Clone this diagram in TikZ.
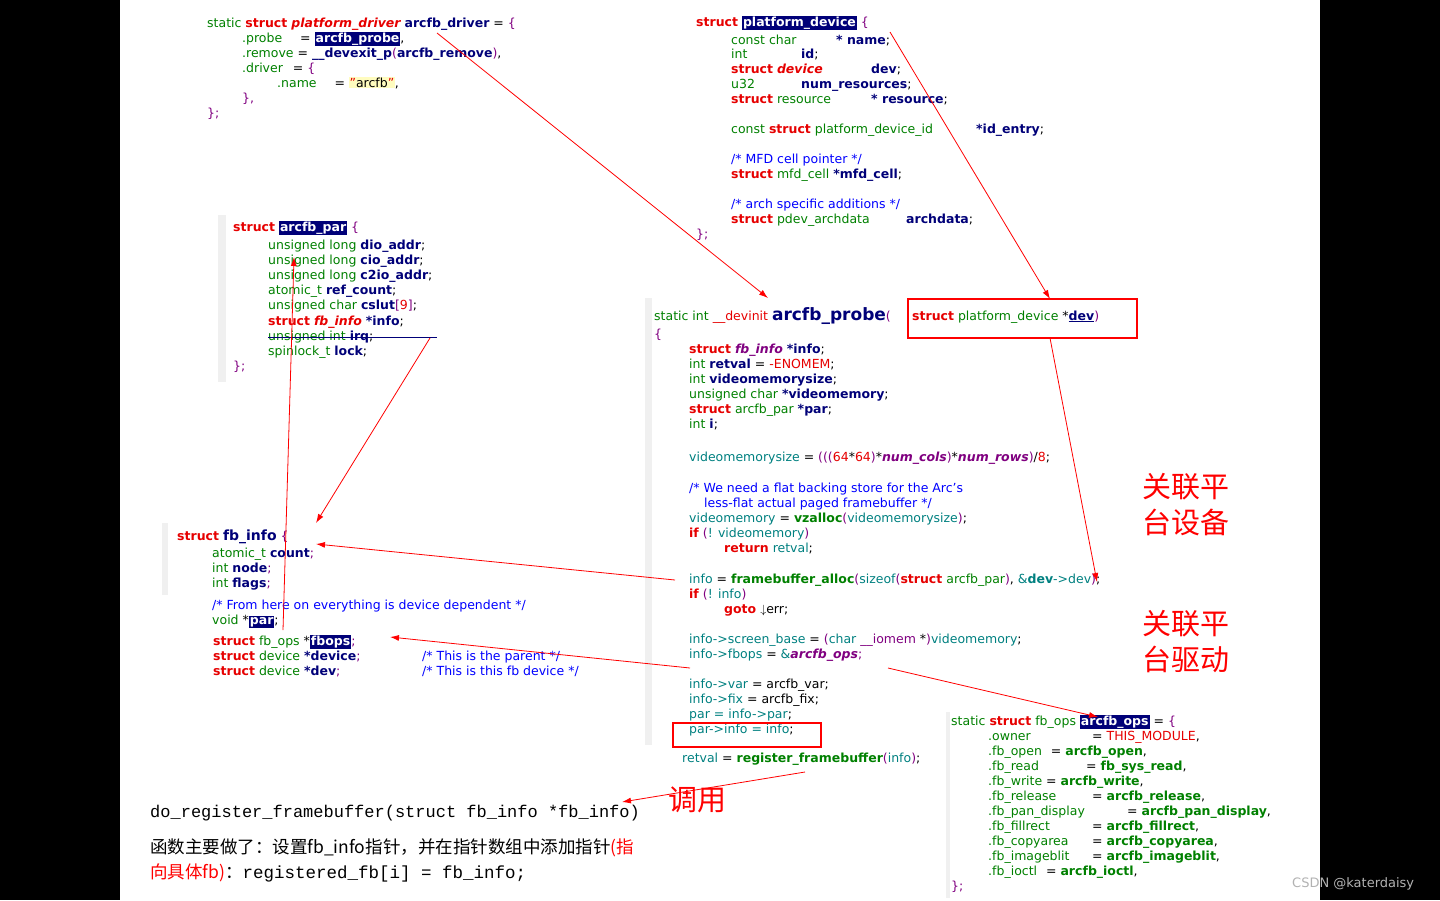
\documentclass[tikz,border=0pt]{standalone}
\usepackage{fontspec}
\setmainfont{DejaVu Sans}
\newfontfamily\cjkf{Noto Sans CJK SC}
\newfontfamily\monof{Liberation Mono}
\usetikzlibrary{arrows.meta}
\definecolor{kwc}{RGB}{230,0,0}
\definecolor{tyc}{RGB}{0,128,0}
\definecolor{idc}{RGB}{0,0,120}
\definecolor{puc}{RGB}{128,0,128}
\definecolor{cmc}{RGB}{0,0,255}
\definecolor{tlc}{RGB}{0,128,128}
\newcommand{\kw}[1]{\textcolor{kwc}{\bfseries #1}}
\newcommand{\ty}[1]{\textcolor{tyc}{#1}}
\newcommand{\idf}[1]{\textcolor{idc}{\bfseries #1}}
\newcommand{\pu}[1]{\textcolor{puc}{#1}}
\newcommand{\cmt}[1]{\textcolor{cmc}{#1}}
\newcommand{\tl}[1]{\textcolor{tlc}{#1}}
\newcommand{\pit}[1]{\textcolor{puc}{\bfseries\itshape #1}}
\newcommand{\rit}[1]{\textcolor{kwc}{\bfseries\itshape #1}}
\newcommand{\hlb}[1]{{\setlength{\fboxsep}{1pt}\colorbox{idc}{\textcolor{white}{\bfseries #1}}}}
\begin{document}
\begin{tikzpicture}[x=1pt,y=-1pt,
  code/.style={anchor=base west,inner sep=0pt,font=\fontsize{12.5}{15}\selectfont},
  cn/.style={anchor=base west,inner sep=0pt,font=\cjkf\fontsize{29}{36}\selectfont,text=red,align=left},
  arr/.style={red,line width=0.8pt,-{Latex[length=9pt,width=6pt]}},
  rbox/.style={draw=red,line width=2pt}]
\useasboundingbox (0,0) rectangle (1440,900);
\fill[black] (0,0) rectangle (120,900);
\fill[black] (1320,0) rectangle (1440,900);
\fill[gray!12] (218,215) rectangle (226,382);
\fill[gray!12] (162,523) rectangle (168,595);
\fill[gray!12] (645,298) rectangle (652,745);
\fill[gray!12] (946,712) rectangle (950,898);
% platform_driver
\node[code] (d1) at (207,27) {\ty{static} \kw{struct} \rit{platform\_driver} \idf{arcfb\_driver} = \pu{\{}};
\node[code] (d2) at (242,42) {\ty{.probe}\hspace{18pt}= \hlb{arcfb\_probe},};
\node[code] (d3) at (242,57) {\ty{.remove} = \idf{\_\_devexit\_p}\pu{(}\idf{arcfb\_remove}\pu{)},};
\node[code] (d4) at (242,72) {\ty{.driver}\hspace{10pt}= \pu{\{}};
\node[code] (d5) at (277,87) {\ty{.name}\hspace{18pt}= {\setlength{\fboxsep}{0.5pt}\colorbox{yellow!25}{\kw{\mdseries"}arcfb\kw{\mdseries"}}},};
\node[code] (d6) at (242,102) {\pu{\},}};
\node[code] (d7) at (207,117) {\pu{\};}};
% platform_device
\node[code] (p0) at (696,26) {\kw{struct} \hlb{platform\_device} \pu{\{}};
\node[code] at (731,44) {\ty{const char}};\node[code] at (836,44) {\idf{* name};};
\node[code] at (731,58) {\ty{int}};\node[code] at (801,58) {\idf{id};};
\node[code] at (731,73) {\kw{struct} \rit{device}};\node[code] at (871,73) {\idf{dev};};
\node[code] at (731,88) {\ty{u32}};\node[code] at (801,88) {\idf{num\_resources};};
\node[code] at (731,103) {\kw{struct} \ty{resource}};\node[code] at (871,103) {\idf{* resource};};
\node[code] at (731,133) {\ty{const} \kw{struct} \ty{platform\_device\_id}};\node[code] at (976,133) {\idf{*id\_entry};};
\node[code] at (731,163) {\cmt{/* MFD cell pointer */}};
\node[code] at (731,178) {\kw{struct} \ty{mfd\_cell} \idf{*mfd\_cell};};
\node[code] at (731,208) {\cmt{/* arch specific additions */}};
\node[code] at (731,223) {\kw{struct} \ty{pdev\_archdata}};\node[code] at (906,223) {\idf{archdata};};
\node[code] at (696,238) {\pu{\};}};
% arcfb_par
\node[code] (a0) at (233,231) {\kw{struct} \hlb{arcfb\_par} \pu{\{}};
\node[code] at (268,249) {\ty{unsigned long} \idf{dio\_addr};};
\node[code] at (268,264) {\ty{unsigned long} \idf{cio\_addr};};
\node[code] at (268,279) {\ty{unsigned long} \idf{c2io\_addr};};
\node[code] at (268,294) {\ty{atomic\_t} \idf{ref\_count};};
\node[code] at (268,309) {\ty{unsigned char} \idf{cslut}\pu{[}\textcolor{kwc}{9}\pu{]};};
\node[code] (ainfo) at (268,325) {\kw{struct} \rit{fb\_info} \idf{*info};};
\node[code] at (268,340) {\ty{unsigned int} \idf{irq};};
\node[code] at (268,355) {\ty{spinlock\_t} \idf{lock};};
\node[code] at (233,370) {\pu{\};}};
\coordinate (aul) at (437,337);
\draw[idc,line width=0.6pt] (268,337) -- (aul);
% fb_info
\node[code] (f0) at (177,540) {\kw{struct} {\fontsize{14}{15}\selectfont\idf{fb\_info}} \pu{\{}};
\node[code] at (212,557) {\ty{atomic\_t} \idf{count}\pu{;}};
\node[code] at (212,572) {\ty{int} \idf{node}\pu{;}};
\node[code] at (212,587) {\ty{int} \idf{flags}\pu{;}};
\node[code] at (212,609) {\cmt{/* From here on everything is device dependent */}};
\node[code] (fpar) at (212,624) {\ty{void} *\hlb{par};};
\node[code] (fops) at (213,645) {\kw{struct} \ty{fb\_ops} *\hlb{fbops}\pu{;}};
\node[code] at (213,660) {\kw{struct} \ty{device} \idf{*device}\pu{;}};\node[code] at (422,660) {\cmt{/* This is the parent */}};
\node[code] at (213,675) {\kw{struct} \ty{device} \idf{*dev}\pu{;}};\node[code] at (422,675) {\cmt{/* This is this fb device */}};
% probe
\node[code] (pr) at (654,320) {\ty{static int} \textcolor{kwc}{\_\_devinit} {\fontsize{17}{15}\selectfont\idf{arcfb\_probe}}\pu{(}};
\node[code] (prd) at (912,320) {\kw{struct} \ty{platform\_device} *\idf{\underline{dev}}\pu{)}};
\draw[rbox] (908,299) rectangle (1137,338);
\coordinate (boxtop) at (1050,299);
\coordinate (boxbot) at (1050,338);
\node[code] at (654,338) {\pu{\{}};
\node[code] at (689,353) {\kw{struct} \pit{fb\_info} \idf{*info};};
\node[code] at (689,368) {\ty{int} \idf{retval} = \textcolor{kwc}{-ENOMEM};};
\node[code] at (689,383) {\ty{int} \idf{videomemorysize};};
\node[code] at (689,398) {\ty{unsigned char} \idf{*videomemory};};
\node[code] at (689,413) {\kw{struct} \ty{arcfb\_par} \idf{*par};};
\node[code] at (689,428) {\ty{int} \idf{i};};
\node[code] at (689,461) {\tl{videomemorysize} = \pu{(((}\textcolor{kwc}{64}*\textcolor{kwc}{64}\pu{)}*\pit{num\_cols}\pu{)}*\pit{num\_rows}\pu{)}/\textcolor{kwc}{8};};
\node[code] at (689,492) {\cmt{/* We need a flat backing store for the Arc's}};
\node[code] at (704,507) {\cmt{less-flat actual paged framebuffer */}};
\node[code] at (689,522) {\tl{videomemory} = \textcolor{tyc}{\bfseries vzalloc}\pu{(}\tl{videomemorysize}\pu{)};};
\node[code] at (689,537) {\kw{if} \pu{(}\tl{! videomemory}\pu{)}};
\node[code] at (724,552) {\kw{return} \tl{retval};};
\node[code] (pinfo) at (689,583) {\tl{info} = \textcolor{tyc}{\bfseries framebuffer\_alloc}\pu{(}\tl{sizeof}\pu{(}\kw{struct} \ty{arcfb\_par}\pu{)}, \tl{\&}\textcolor{tlc}{\bfseries dev}\tl{->dev}\pu{)};};
\coordinate (pdev) at (1097,582);
\node[code] at (689,598) {\kw{if} \pu{(}\tl{! info}\pu{)}};
\node[code] at (724,613) {\kw{goto} $\downarrow$err;};
\node[code] at (689,643) {\tl{info->screen\_base} = \pu{(}\tl{char} \textcolor{puc}{\_\_iomem} *\pu{)}\tl{videomemory};};
\node[code] (pops) at (689,658) {\tl{info->fbops} = \tl{\&}\pit{arcfb\_ops}\pu{;}};
\node[code] at (689,688) {\tl{info->var} = arcfb\_var;};
\node[code] at (689,703) {\tl{info->fix} = arcfb\_fix;};
\node[code] at (689,718) {\tl{par = info->par};};
\node[code] at (689,733) {\tl{par->info = info};};
\draw[rbox] (673,723) rectangle (821,747);
\node[code] (reg) at (682,762) {\tl{retval} = \textcolor{tyc}{\bfseries register\_framebuffer}\pu{(}\tl{info}\pu{)};};
% fb_ops
\node[code] (o0) at (951,725) {\ty{static} \kw{struct} \ty{fb\_ops} \hlb{arcfb\_ops} = \pu{\{}};
\node[code] at (988,740) {\ty{.owner}};\node[code] at (1092,740) {= \textcolor{kwc}{THIS\_MODULE},};
\node[code] at (988,755) {\ty{.fb\_open}\hspace{5pt} = \textcolor{tyc}{\bfseries arcfb\_open},};
\node[code] at (988,770) {\ty{.fb\_read}};\node[code] at (1086,770) {= \textcolor{tyc}{\bfseries fb\_sys\_read},};
\node[code] at (988,785) {\ty{.fb\_write} = \textcolor{tyc}{\bfseries arcfb\_write},};
\node[code] at (988,800) {\ty{.fb\_release}};\node[code] at (1092,800) {= \textcolor{tyc}{\bfseries arcfb\_release},};
\node[code] at (988,815) {\ty{.fb\_pan\_display}};\node[code] at (1127,815) {= \textcolor{tyc}{\bfseries arcfb\_pan\_display},};
\node[code] at (988,830) {\ty{.fb\_fillrect}};\node[code] at (1092,830) {= \textcolor{tyc}{\bfseries arcfb\_fillrect},};
\node[code] at (988,845) {\ty{.fb\_copyarea}};\node[code] at (1092,845) {= \textcolor{tyc}{\bfseries arcfb\_copyarea},};
\node[code] at (988,860) {\ty{.fb\_imageblit}};\node[code] at (1092,860) {= \textcolor{tyc}{\bfseries arcfb\_imageblit},};
\node[code] at (988,875) {\ty{.fb\_ioctl}\hspace{5pt} = \textcolor{tyc}{\bfseries arcfb\_ioctl},};
\node[code] at (951,890) {\pu{\};}};
% chinese labels
\node[cn] (c1) at (1142,533) {关联平\\台设备};
\node[cn] (c2) at (1142,670) {关联平\\台驱动};
\node[cn] (c3) at (668,810) {调用};
% bottom text
\node[anchor=base west,inner sep=0pt,font=\monof\fontsize{17}{20}\selectfont] (dr) at (150,817) {do\_register\_framebuffer(struct fb\_info *fb\_info)};
\node[anchor=base west,inner sep=0pt,font=\cjkf\fontsize{17.5}{20}\selectfont] (t1) at (150,853) {函数主要做了：设置fb\_info指针，并在指针数组中添加指针\textcolor{red}{(指}};
\node[anchor=base west,inner sep=0pt,font=\cjkf\fontsize{17.5}{20}\selectfont] (t2) at (150,878) {\textcolor{red}{向具体fb)}：{\monof registered\_fb[i] = fb\_info;}};
\node[anchor=base west,inner sep=0pt,font=\fontsize{13}{15}\selectfont,text=gray!60] (wm) at (1292,887) {CSDN @katerdaisy};
% arrows
\coordinate (s1) at (437,33);
\coordinate (e1) at (768,298);
\draw[arr] (s1) -- (e1);
\coordinate (s2) at (890,32);
\draw[arr] (s2) -- (boxtop);
\draw[arr] (boxbot) -- (pdev);
\coordinate (s4) at (675,580);
\coordinate (e4) at (316,544);
\draw[arr] (s4) -- (e4);
\coordinate (e5) at (316,523);
\draw[arr] (430,338) -- (e5);
\coordinate (s6) at (283,630);
\coordinate (e6) at (294,257);
\draw[arr] (s6) -- (e6);
\coordinate (s7) at (690,668);
\coordinate (e7) at (390,637);
\draw[arr] (s7) -- (e7);
\coordinate (s8) at (888,668);
\coordinate (e8) at (1098,717);
\draw[arr] (s8) -- (e8);
\coordinate (s9) at (805,772);
\coordinate (e9) at (622,802);
\draw[arr] (s9) -- (e9);
\end{tikzpicture}
\end{document}
